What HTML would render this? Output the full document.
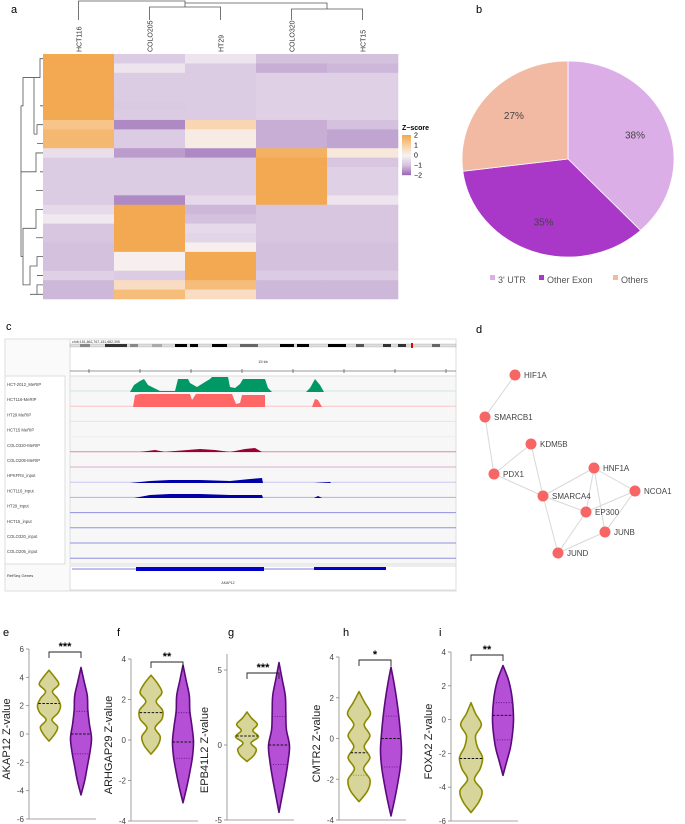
<!DOCTYPE html>
<html><head><meta charset="utf-8"><style>
body{margin:0;background:#fff;font-family:"Liberation Sans",Arial,sans-serif}
svg{display:block}
</style></head><body>
<svg id="fig" width="685" height="824" viewBox="0 0 685 824" xmlns="http://www.w3.org/2000/svg" font-family="Liberation Sans, Arial, sans-serif">
<text x="11" y="13" font-size="11">a</text>
<text x="476" y="13" font-size="11">b</text>
<text x="6" y="330" font-size="11">c</text>
<text x="476" y="333" font-size="11">d</text>
<g id="heat"></g>
<g id="pie"></g>
<g id="browser"></g>
<g id="net"></g>
<g id="violins"></g>
</svg>
<script>
const NS="http://www.w3.org/2000/svg";
function mk(tag,attrs,parent,txt){const e=document.createElementNS(NS,tag);for(const k in attrs)e.setAttribute(k,attrs[k]);if(txt!==undefined)e.textContent=txt;parent.appendChild(e);return e;}

// ---------- Heatmap data ----------
const heatCols=["HCT116","COLO205","HT29","COLO320","HCT15"];
const heatValues=[
[2,-0.8,-0.3,-1,-1],[2,-0.3,-0.8,-1.2,-1.1],[2,-0.8,-0.8,-0.7,-0.7],[2,-0.8,-0.8,-0.7,-0.7],
[2,-0.8,-0.8,-0.7,-0.7],[2,-0.85,-0.8,-0.7,-0.7],[2,-0.8,-0.8,-0.7,-0.7],[1.3,-1.6,0.8,-1.2,-1],
[1.6,-0.8,0.2,-1.2,-1.3],[1.6,-0.8,0.2,-1.2,-1.3],[-0.4,-1.4,-1.6,1.8,0.3],[-0.8,-0.8,-0.8,2,-0.9],
[-0.8,-0.8,-0.8,2,-0.7],[-0.8,-0.8,-0.8,2,-0.7],[-0.8,-0.8,-0.8,2,-0.7],[-0.8,-1.6,-0.5,2,-0.3],
[-0.5,2,-1.1,-0.9,-0.9],[-0.2,2,-1,-0.9,-0.9],[-0.9,2,-0.5,-0.9,-0.9],[-0.9,2,-0.6,-0.9,-0.9],
[-1,2,0.1,-1,-1],[-1,0.1,2,-1,-1],[-1,0.1,2,-1,-1],[-0.7,-0.8,2,-0.8,-0.8],
[-1.1,0.6,1.5,-1.1,-1.1],[-1.1,1.5,0.6,-1.1,-1.1]];
const zTicks=[2,1,0,-1,-2];

// ---------- Pie data ----------
const pieLabels=["3' UTR","Other Exon","Others"];
const pieValues=[38,35,27];

// ---------- Network data ----------
const netNodes=["HIF1A","SMARCB1","KDM5B","PDX1","HNF1A","SMARCA4","NCOA1","EP300","JUNB","JUND"];
const netEdges=[["HIF1A","SMARCB1"],["SMARCB1","PDX1"],["PDX1","KDM5B"],["PDX1","SMARCA4"],["KDM5B","SMARCA4"],["SMARCA4","HNF1A"],["SMARCA4","EP300"],["SMARCA4","JUND"],["HNF1A","NCOA1"],["HNF1A","EP300"],["HNF1A","JUNB"],["NCOA1","EP300"],["NCOA1","JUNB"],["EP300","JUND"],["JUNB","JUND"]];

// ---------- Violin data ----------
const violinGenes=["AKAP12","ARHGAP29","EPB41L2","CMTR2","FOXA2"];
const violinSig=["***","**","***","*","**"];
const violinYMin=[-6,-4,-5,-4,-6];
const violinYMax=[6,4,5,4,4];
const violinTicks=[[6,4,2,0,-2,-4,-6],[4,2,0,-2,-4],[5,0,-5],[4,2,0,-2,-4],[4,2,0,-2,-4,-6]];
const groupAMin=[-0.5,-0.7,-1.1,-3.1,-5.5];
const groupAMax=[4.5,3.2,2.2,2.3,1.0];
const groupAMedian=[2.15,1.35,0.6,-0.7,-2.3];
const groupAQ1=[2.15,1.35,0.6,-1.8,-2.3];
const groupAQ3=[2.15,1.35,0.6,-0.7,-2.3];
const groupAShape=[[0,0.5,0.75,0.25,0.8,1,0.75,0.3,0.85,0.5,0],[0,0.6,0.8,0.35,0.95,1,0.45,0.95,0.6,0],[0,0.6,0.8,0.35,1,0.5,0.9,0.4,0],[0,0.75,0.95,0.4,0.95,0.45,0.95,0.45,1,0.5,0],[0,0.7,0.95,0.3,0.8,1,0.55,0.4,0.9,0.4,0]];
const groupBMin=[-4.3,-3.1,-4.5,-3.8,-3.3];
const groupBMax=[4.7,3.7,5.5,3.5,3.2];
const groupBMedian=[0,-0.1,0,0,0.25];
const groupBQ1=[-1.4,-0.9,-1.3,-1.4,-1.2];
const groupBQ3=[1.6,1.35,1.9,1.1,1.0];
const groupBShape=[[0,0.35,0.6,0.85,1,0.8,0.65,0.6,0.3,0],[0,0.35,0.65,0.9,1,0.85,0.65,0.6,0.3,0],[0,0.3,0.6,0.85,1,0.7,0.65,0.6,0.3,0],[0,0.35,0.65,0.9,1,0.9,0.75,0.55,0.3,0],[0,0.35,0.7,0.9,1,0.95,0.8,0.5,0]];

// ===== Heatmap =====
(function(){
 const g=document.getElementById('heat');
 const x0=43,y0=54,w=355,h=245,cw=w/heatCols.length,rh=h/heatValues.length;
 const stops=[[-2,[150,100,178]],[-1,[212,193,222]],[0,[247,243,245]],[1,[249,207,160]],[2,[243,169,82]]];
 function col(v){v=Math.max(-2,Math.min(2,v));for(let i=0;i<stops.length-1;i++){const a=stops[i],b=stops[i+1];if(v<=b[0]){const t=(v-a[0])/(b[0]-a[0]);const c=a[1].map((q,j)=>Math.round(q+(b[1][j]-q)*t));return `rgb(${c})`;}}}
 heatValues.forEach((row,r)=>row.forEach((v,c)=>{
  const e=mk('rect',{x:x0+c*cw,y:y0+r*rh,width:cw+0.3,height:rh+0.3,fill:col(v)},g);
  
  
 }));
 heatCols.forEach((n,c)=>{const cx=x0+c*cw+cw/2;
  const t=mk('text',{x:0,y:0,transform:`translate(${cx+3},52) rotate(-90)`,'font-size':7,fill:'#333'},g,n);
  
  
 });
 const d=mk('g',{stroke:'#555','stroke-width':0.8,fill:'none'},g);
 
 
 const cx=i=>x0+i*cw+cw/2;
 mk('path',{d:`M${cx(0)},20V1H${(cx(1)+cx(2))/2}V3 M${cx(1)},20V7H${cx(2)}V20 M${(cx(1)+cx(2))/2},3V7 M${cx(3)},20V9H${cx(4)}V20 M${(cx(3)+cx(4))/2},9V3H${(cx(1)+cx(2))/2}`},d);
 const rd=mk('g',{stroke:'#555','stroke-width':0.8,fill:'none'},g);
 
 
 const ry=i=>y0+i*rh+rh/2;
 mk('path',{d:`M21,${ry(5)}V${ry(21)} M21,${ry(5)}H23V${ry(2)}H34V${ry(8)} M34,${ry(2)}H40V${ry(0)}H43 M40,${ry(5)}H43 M34,${ry(8)}H37V${ry(7)}H43 M37,${ry(9)}H43 M21,${ry(12)}H36V${ry(10)}H43 M36,${ry(14)}H43 M40,${ry(12)}H43 M21,${ry(21)}H23V${ry(18)}H36V${ry(16)}H43 M36,${ry(19)}H43 M23,${ry(21)}V${ry(24)}H30V${ry(22)}H37V${ry(21)}H43 M37,${ry(23)}H43 M30,${ry(25)}H37V${ry(24)}H43 M37,${ry(25)}H43`},rd);
 const lg=mk('g',{},g);
 
 
 mk('text',{x:402,y:130,'font-size':7,'font-weight':'bold'},lg,'Z−score');
 const ly=v=>135+(2-v)/4*40;
 for(let i=0;i<40;i++){mk('rect',{x:402,y:135+i,width:9,height:1.2,fill:col(2-i/10)},lg);}
 zTicks.forEach(v=>{mk('text',{x:414,y:ly(v)+2.5,'font-size':7},lg,v<0?'−'+(-v):String(v));});
})();

// ===== Pie =====
(function(){
 const g=document.getElementById('pie');
 const cx=568,cy=159,rx=106,ry=98;
 const cols=['#dcaee8','#a937c8','#f2baa3'];
 const tot=pieValues.reduce((a,b)=>a+b,0);let a0=-Math.PI/2;
 pieValues.forEach((v,i)=>{
  const a1=a0+v/tot*2*Math.PI;
  const p=(a)=>[cx+rx*Math.cos(a),cy+ry*Math.sin(a)];
  const s=p(a0),e=p(a1);
  const path=mk('path',{d:`M${cx},${cy}L${s[0]},${s[1]}A${rx},${ry} 0 ${a1-a0>Math.PI?1:0} 1 ${e[0]},${e[1]}Z`,fill:cols[i],stroke:'#fff','stroke-width':0.8},g);
  
  
  const am=(a0+a1)/2;
  const t=mk('text',{x:cx+rx*0.68*Math.cos(am),y:cy+ry*0.68*Math.sin(am)+4,'font-size':10,fill:'#444','text-anchor':'middle'},g,v+'%');
  
  
  a0=a1;
 });
 const lx=[490,539,613];
 pieLabels.forEach((n,i)=>{
  const lg=mk('g',{},g);
  
  
  mk('rect',{x:lx[i],y:275,width:5,height:5,fill:cols[i]},lg);
  mk('text',{x:lx[i]+8,y:283,'font-size':9,fill:'#555'},lg,n);
 });
})();

// ===== Genome browser =====
(function(){
 const g=document.getElementById('browser');
 mk('rect',{x:5,y:339,width:451,height:252,fill:'#fafafa',stroke:'#ddd'},g);
 mk('rect',{x:70,y:339,width:386,height:37,fill:'#fff',stroke:'#ddd'},g);
 mk('rect',{x:70,y:376,width:386,height:188,fill:'#f7f7f7',stroke:'#ddd'},g);
 mk('rect',{x:70,y:566,width:386,height:24,fill:'#fff',stroke:'#ddd'},g);
 mk('rect',{x:5,y:376,width:60,height:188,fill:'#fff',stroke:'#ddd'},g);
 mk('text',{x:72,y:343,'font-size':3.5,fill:'#333'},g,'chr6:151,662,767-151,682,395');
 const bands=[[80,10,'#888'],[105,22,'#333'],[130,8,'#888'],[152,10,'#aaa'],[175,12,'#000'],[190,8,'#000'],[212,15,'#000'],[240,18,'#666'],[280,14,'#000'],[297,12,'#000'],[328,18,'#000'],[356,8,'#555'],[383,8,'#333'],[398,8,'#333'],[432,8,'#666']];
 mk('rect',{x:70,y:344,width:386,height:3,fill:'#ddd',stroke:'#999','stroke-width':0.3},g);
 bands.forEach(b=>mk('rect',{x:b[0],y:344,width:b[1],height:3,fill:b[2]},g));
 mk('rect',{x:411,y:343,width:2,height:5,fill:'#e00'},g);
 mk('text',{x:263,y:363,'font-size':4,fill:'#333','text-anchor':'middle'},g,'15 kb');
 mk('line',{x1:70,y1:371,x2:456,y2:371,stroke:'#333','stroke-width':0.5},g);
 for(let i=0;i<8;i++){mk('line',{x1:89+i*51,y1:369,x2:89+i*51,y2:373,stroke:'#333','stroke-width':0.6},g);}
 const names=["HCT-2012_MeRIP","HCT116-MeRIP","HT29 MeRIP","HCT15 MeRIP","COLO320-MeRIP","COLO205-MeRIP","HPKFRS_input","HCT116_input","HT29_input","HCT15_input","COLO320_input","COLO205_input"];
 const lines=['#cfe8dc','#f7c7c7','#f0e0e0','#eee','#d98aa0','#d8b0c8','#c8c8f0','#b0b0ee','#9090e0','#9090e0','#9090e0','#9090e0'];
 names.forEach((n,i)=>{
  const y=376+i*15.2;
  const t=mk('text',{x:7,y:y+10,'font-size':4.2,fill:'#444'},g,n);
  
  
  mk('line',{x1:70,y1:y+15,x2:456,y2:y+15,stroke:lines[i],'stroke-width':1},g);
 });
 mk('path',{d:'M130,392 L134,385 L140,381 L144,379 L148,385 L160,391 L175,391 L178,379 L188,379 L190,383 L197,387 L205,382 L210,379 L212,377 L228,377 L230,387 L235,388 L240,384 L243,379 L265,379 L268,388 L272,392 L306,392 L310,388 L315,379 L320,385 L324,392Z',fill:'#009966'},g);
 mk('path',{d:'M133,407 L135,395 L140,394 L190,394 L192,400 L196,394 L232,394 L236,404 L240,403 L242,395 L265,395 L265,407Z M312,407 L315,399 L318,400 L322,407Z',fill:'#ff6666'},g);
 mk('path',{d:'M140,452 L155,450 L165,452 L175,451 L200,449 L215,450 L230,452 L245,449 L255,448 L262,452Z',fill:'#990033'},g);
 mk('path',{d:'M130,483 L150,481 L170,480 L200,480 L230,481 L250,479 L262,478 L263,483Z M314,483 L330,482 L331,483Z',fill:'#0000aa'},g);
 mk('path',{d:'M134,498 L150,495 L170,494 L200,494 L230,495 L262,495 L263,498Z M314,498 L318,496 L322,498Z',fill:'#0000aa'},g);
 const gn=mk('g',{},g);
 
 
 mk('line',{x1:72,y1:569,x2:386,y2:569,stroke:'#0000cc','stroke-width':0.5},gn);
 mk('rect',{x:136,y:567,width:128,height:4,fill:'#0000cc'},gn);
 mk('rect',{x:314,y:567,width:72,height:3,fill:'#0000cc'},gn);
 mk('text',{x:7,y:577,'font-size':4,fill:'#333'},gn,'RefSeq Genes');
 mk('text',{x:228,y:584,'font-size':3.5,fill:'#333','text-anchor':'middle'},gn,'AKAP12');
})();

// ===== Network =====
(function(){
 const g=document.getElementById('net');
 const pos={HIF1A:[515,375],SMARCB1:[485,417],KDM5B:[531,444],PDX1:[494,474],HNF1A:[594,468],SMARCA4:[543,496],NCOA1:[635,491],EP300:[586,512],JUNB:[605,532],JUND:[558,553]};
 netEdges.forEach(e=>{const a=pos[e[0]],b=pos[e[1]];
  const l=mk('line',{x1:a[0],y1:a[1],x2:b[0],y2:b[1],stroke:'#d8d8d8','stroke-width':1},g);
  
  
 });
 netNodes.forEach(n=>{const p=pos[n];
  const c=mk('circle',{cx:p[0],cy:p[1],r:5.5,fill:'#f76565'},g);
  
  
  const t=mk('text',{x:p[0]+9,y:p[1]+3,'font-size':8,fill:'#444'},g,n);
  
  
 });
})();

// ===== Violins =====
(function(){
 const g=document.getElementById('violins');
 const axX=[29,131,227,339,451], yTop=[649,659,670,657,652], yBot=[819,821,820,820,821];
 const letters=['e','f','g','h','i'], letX=[3,117,228,343,439];
 function crPath(pts){ // catmull-rom through points, returns segment commands (excluding initial M)
  let d='';
  for(let i=0;i<pts.length-1;i++){
   const p0=pts[Math.max(0,i-1)],p1=pts[i],p2=pts[i+1],p3=pts[Math.min(pts.length-1,i+2)];
   const c1=[p1[0]+(p2[0]-p0[0])/6,p1[1]+(p2[1]-p0[1])/6];
   const c2=[p2[0]-(p3[0]-p1[0])/6,p2[1]-(p3[1]-p1[1])/6];
   d+=`C${c1[0]},${c1[1]} ${c2[0]},${c2[1]} ${p2[0]},${p2[1]} `;
  }
  return d;
 }
 function violin(p,cx,ymap,mn,mx,shape,med,q1,q3,fill,stroke,hw){
  const n=shape.length,right=[],left=[];
  for(let i=0;i<n;i++){const y=ymap(mn+(mx-mn)*i/(n-1));right.push([cx+shape[i]*hw,y]);left.push([cx-shape[i]*hw,y]);}
  left.reverse();
  const d=`M${right[0][0]},${right[0][1]} `+crPath(right)+`L${left[0][0]},${left[0][1]} `+crPath(left)+'Z';
  const v=mk('path',{d:d,fill:fill,stroke:stroke,'stroke-width':1.6,'stroke-linejoin':'round'},p);
  
  
  function wAt(val){const f=(val-mn)/(mx-mn)*(n-1);const i=Math.max(0,Math.min(n-2,Math.floor(f)));const t=f-i;return (shape[i]*(1-t)+shape[i+1]*t)*hw;}
  const ml=mk('line',{x1:cx-wAt(med),x2:cx+wAt(med),y1:ymap(med),y2:ymap(med),stroke:'#111','stroke-width':1,'stroke-dasharray':'2.5,1.5'},p);
  
  
  [q1,q3].forEach(q=>{if(q===med)return;
   const ql=mk('line',{x1:cx-wAt(q),x2:cx+wAt(q),y1:ymap(q),y2:ymap(q),stroke:stroke,'stroke-width':0.8,'stroke-dasharray':'1,1.5'},p);
   
   
  });
 }
 violinGenes.forEach((gene,k)=>{
  const p=mk('g',{},g);
  
  
  const ax=axX[k];
  const ymap=v=>yBot[k]-(v-violinYMin[k])/(violinYMax[k]-violinYMin[k])*(yBot[k]-yTop[k]);
  mk('text',{x:letX[k],y:636,'font-size':11},p,letters[k]);
  const axTop=k===2?654:ymap(violinYMax[k]);
  mk('line',{x1:ax,y1:axTop,x2:ax,y2:yBot[k],stroke:'#888','stroke-width':0.8},p);
  mk('line',{x1:ax,y1:yBot[k],x2:ax+67,y2:yBot[k],stroke:'#888','stroke-width':0.8},p);
  violinTicks[k].forEach(t=>{const y=ymap(t);
   mk('line',{x1:ax-3,x2:ax,y1:y,y2:y,stroke:'#888','stroke-width':0.8},p);
   const tl=mk('text',{x:ax-5,y:y+3,'font-size':8,fill:'#444','text-anchor':'end'},p,String(t));
   
   
  });
  const yl=mk('text',{x:0,y:0,transform:`translate(${ax-19},${(yTop[k]+yBot[k])/2+5}) rotate(-90)`,'font-size':11,fill:'#222','text-anchor':'middle'},p,gene+' Z-value');
  
  
  const c1=ax+20,c2=ax+52;
  violin(p,c1,ymap,groupAMin[k],groupAMax[k],groupAShape[k],groupAMedian[k],groupAQ1[k],groupAQ3[k],'#d8d59a','#8c8a00',11.5);
  violin(p,c2,ymap,groupBMin[k],groupBMax[k],groupBShape[k],groupBMedian[k],groupBQ1[k],groupBQ3[k],'#b44fd6','#5a0a7a',10.5);
  const by=yTop[k]+3;
  const br=mk('path',{d:`M${c1},${by+6}V${by}H${c2}V${by+6}`,stroke:'#222',fill:'none','stroke-width':0.9},p);
  
  
  const st=mk('text',{x:(c1+c2)/2,y:by-2,'font-size':11,'font-weight':'bold','text-anchor':'middle'},p,violinSig[k]);
  
  
 });
})();
</script>
</body></html>
